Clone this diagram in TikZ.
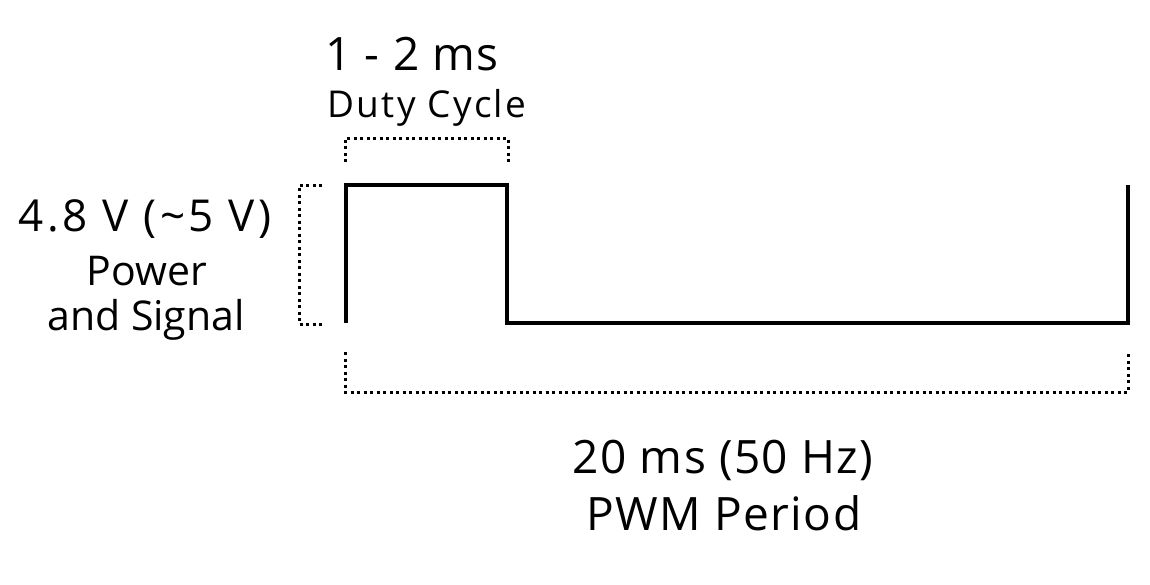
\documentclass[tikz,border=0pt]{standalone}
\usepackage{fontspec}
\setmainfont{Open Sans}
\newfontfamily\widefont[LetterSpace=3]{Open Sans}
\newfontfamily\widerfont[LetterSpace=6]{Open Sans}
\newfontfamily\voltfont[LetterSpace=8]{Open Sans}
\usetikzlibrary{calc}

\tikzset{
  wave/.style={line width=3.5pt, line join=miter},
  bracket/.style={line width=3pt, dash pattern=on 3pt off 3.5pt},
  biglabel/.style={anchor=base, inner sep=0pt, font=\widefont\fontsize{46}{50}\selectfont},
  sidelabel/.style={anchor=base, inner sep=0pt, font=\fontsize{41}{45}\selectfont},
  smalllabel/.style={anchor=base, inner sep=0pt, font=\widerfont\fontsize{37}{40}\selectfont}
}

\begin{document}
\begin{tikzpicture}[x=1pt, y=-1pt]
\useasboundingbox (0,0) rectangle (1150,584);
% PWM signal
\draw[wave]
    (346, 323) --   % start low
    (346, 185) --   % rise
    (507, 185) --   % pulse top
    (507, 323) --   % fall
    (1128, 323) --  % low level
    (1128, 185);    % next rise
% brackets
\draw[bracket] (345, 162) -- (345, 138) -- (508, 138) -- (508, 162);   % duty cycle
\draw[bracket] (322, 185) -- (299, 185) -- (299, 324) -- (322, 324);   % voltage
\draw[bracket] (345, 352) -- (345, 392) -- (1128, 392) -- (1128, 352); % period
% labels
\node[biglabel] (duty) at (412, 70) {1 - 2 ms};
\node[smalllabel] (dutytxt) at (427, 117) {Duty Cycle};
\node[sidelabel, font=\voltfont\fontsize{44}{46}\selectfont] (volt) at (145, 231) {4.8 V (\textasciitilde5 V)};
\node[sidelabel] (power) at (147, 285) {Power};
\node[sidelabel] (signal) at (146, 330) {and Signal};
\node[biglabel] (period) at (723, 473) {20 ms (50 Hz)};
\node[biglabel] (pwm) at (724, 530) {PWM Period};

\end{tikzpicture}
\end{document}
